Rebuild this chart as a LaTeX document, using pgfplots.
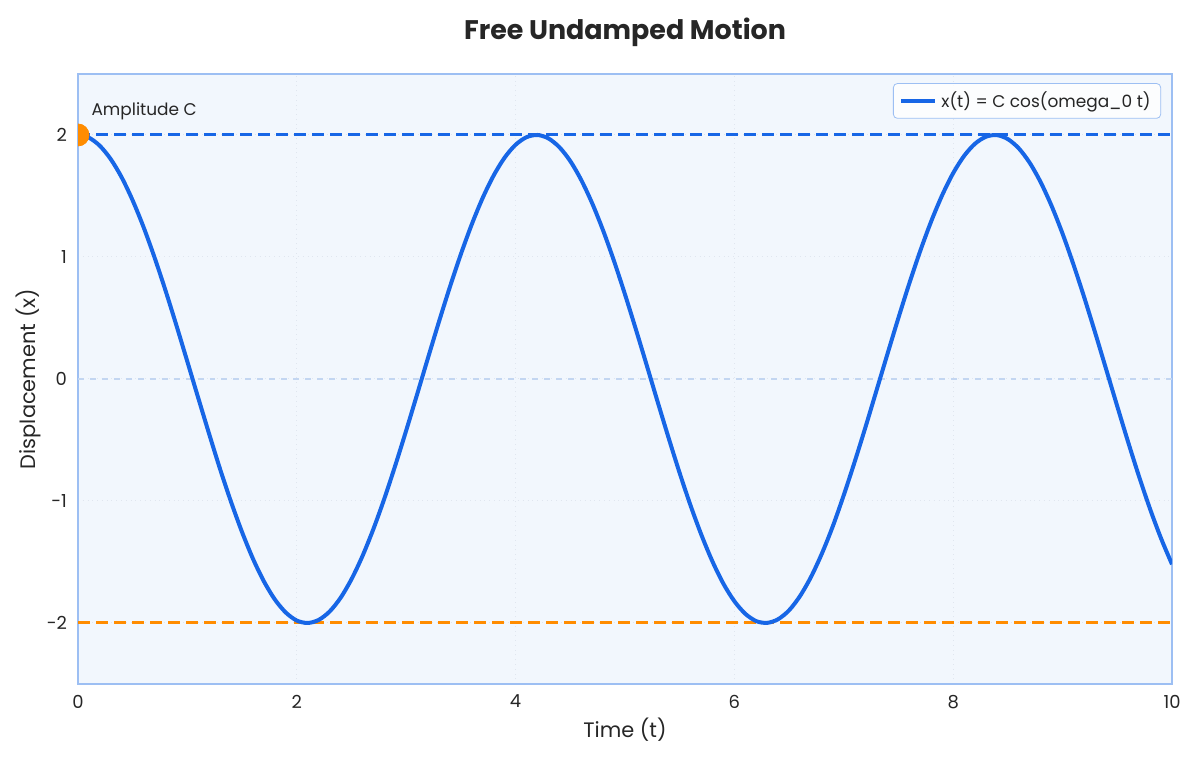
\documentclass[border=0pt]{standalone}
\usepackage{pgfplots}
\pgfplotsset{compat=1.18}
\usepackage{fontspec}
\setmainfont{Poppins}
\usetikzlibrary{calc}

\definecolor{curveblue}{HTML}{1766E6}
\definecolor{amporange}{HTML}{FF8C00}
\definecolor{panelbg}{HTML}{F2F7FD}
\definecolor{framecol}{HTML}{9DBFF3}
\definecolor{zerocol}{HTML}{C3D6F1}
\definecolor{gridcol}{HTML}{E0E6EF}
\definecolor{textcol}{HTML}{262626}

\begin{document}
\begin{tikzpicture}
\begin{axis}[name=ax,
    scale only axis,
    width=547bp, height=305bp,
    xmin=0, xmax=10, ymin=-2.5, ymax=2.5,
    xtick={0,2,...,10}, ytick={-2,-1,0,1,2},
    major tick length=0pt,
    /pgf/number format/assume math mode=true,
    tick label style={font=\fontsize{9}{10}\selectfont, text=textcol},
    xticklabel style={yshift=-2bp},
    yticklabel style={xshift=-2bp},
    grid=major,
    major grid style={gridcol, dotted, line width=0.5bp},
    axis background/.style={fill=panelbg},
    axis line style={framecol, line width=1bp},
    xlabel={Time (t)}, ylabel={Displacement (x)},
    label style={font=\fontsize{10.5}{12}\selectfont, text=textcol},
    xlabel style={yshift=2bp},
    ylabel style={yshift=-4bp},
    title={\textbf{Free Undamped Motion}},
    title style={font=\fontsize{13.5}{16}\selectfont, text=textcol, yshift=4bp},
    legend style={at={(0.99,0.985)}, anchor=north east,
        draw=framecol, fill=white, fill opacity=0.8, text opacity=1,
        rounded corners=2bp, font=\fontsize{8.5}{10}\selectfont,
        text=textcol, inner xsep=3bp, inner ysep=2bp},
    legend cell align=left,
    clip marker paths=true,
]
% zero line
\addplot[zerocol, dashed, line width=0.8bp, forget plot] coordinates {(0,0) (10,0)};
% amplitude lines
\addplot[curveblue, line width=1.5bp, dash pattern=on 6bp off 3bp, forget plot] coordinates {(0,2) (10,2)};
\addplot[amporange, line width=1.5bp, dash pattern=on 6bp off 3bp, forget plot] coordinates {(0,-2) (10,-2)};
% displacement curve
\addplot[curveblue, line width=2bp, smooth] coordinates {
(0.0,2.000) (0.1,1.978) (0.2,1.911) (0.3,1.801) (0.4,1.651) (0.5,1.463)
(0.6,1.243) (0.7,0.995) (0.8,0.725) (0.9,0.438) (1.0,0.141) (1.1,-0.158)
(1.2,-0.454) (1.3,-0.742) (1.4,-1.010) (1.5,-1.256) (1.6,-1.475) (1.7,-1.660)
(1.8,-1.808) (1.9,-1.915) (2.0,-1.980) (2.1,-2.000) (2.2,-1.975) (2.3,-1.906)
(2.4,-1.794) (2.5,-1.641) (2.6,-1.452) (2.7,-1.230) (2.8,-0.981) (2.9,-0.709)
(3.0,-0.422) (3.1,-0.125) (3.2,0.175) (3.3,0.471) (3.4,0.756) (3.5,1.024)
(3.6,1.269) (3.7,1.486) (3.8,1.669) (3.9,1.815) (4.0,1.920) (4.1,1.982)
(4.2,2.000) (4.3,1.972) (4.4,1.900) (4.5,1.786) (4.6,1.631) (4.7,1.440)
(4.8,1.217) (4.9,0.966) (5.0,0.693) (5.1,0.405) (5.2,0.108) (5.3,-0.192)
(5.4,-0.487) (5.5,-0.772) (5.6,-1.039) (5.7,-1.282) (5.8,-1.497) (5.9,-1.679)
(6.0,-1.822) (6.1,-1.925) (6.2,-1.985) (6.3,-1.999) (6.4,-1.969) (6.5,-1.896)
(6.6,-1.779) (6.7,-1.623) (6.8,-1.430) (6.9,-1.206) (7.0,-0.951) (7.1,-0.677)
(7.2,-0.389) (7.3,-0.091) (7.4,0.208) (7.5,0.503) (7.6,0.787) (7.7,1.053)
(7.8,1.295) (7.9,1.508) (8.0,1.688) (8.1,1.829) (8.2,1.929) (8.3,1.986)
(8.4,1.999) (8.5,1.966) (8.6,1.890) (8.7,1.771) (8.8,1.612) (8.9,1.417)
(9.0,1.190) (9.1,0.936) (9.2,0.662) (9.3,0.372) (9.4,0.074) (9.5,-0.225)
(9.6,-0.520) (9.7,-0.803) (9.8,-1.067) (9.9,-1.307) (10.0,-1.519)
};
\addlegendentry{x(t) = C cos(omega\_0 t)}
% amplitude marker (clipped at the frame, as in the reference)
\addplot[only marks, mark=*, mark size=5.5bp, color=amporange, forget plot] coordinates {(0,2)};
\node[anchor=south west, font=\fontsize{8.5}{10}\selectfont, text=textcol, inner sep=0pt]
    at (axis cs:0.12,2.12) {Amplitude C};
\end{axis}
\path[use as bounding box] ($(ax.south west)+(-39bp,-38.5bp)$) rectangle ($(ax.north east)+(14bp,37bp)$);
\end{tikzpicture}
\end{document}
